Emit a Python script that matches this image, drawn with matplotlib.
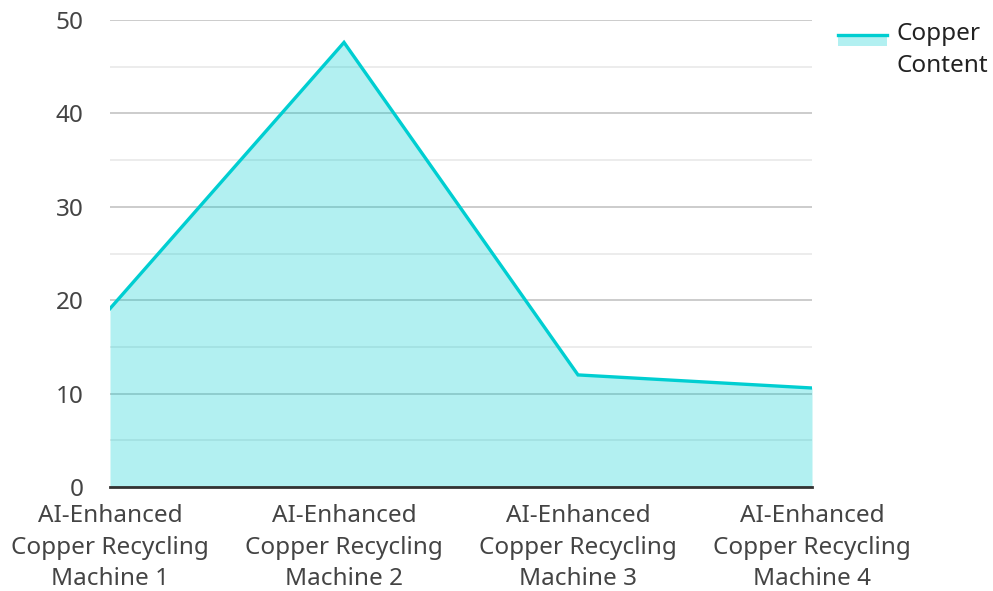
import matplotlib
matplotlib.use("Agg")
import matplotlib.pyplot as plt
from matplotlib.legend_handler import HandlerBase
from matplotlib.patches import Rectangle
from matplotlib.lines import Line2D
from matplotlib.ticker import MultipleLocator

plt.rcParams['font.family'] = ['Noto Sans', 'DejaVu Sans']

categories = [
    "AI-Enhanced\nCopper Recycling\nMachine 1",
    "AI-Enhanced\nCopper Recycling\nMachine 2",
    "AI-Enhanced\nCopper Recycling\nMachine 3",
    "AI-Enhanced\nCopper Recycling\nMachine 4",
]
copper_content = [19.1, 47.6, 12.0, 10.6]
series_label = "Copper\nContent"

line_color = "#00CED1"
text_color = "#444444"


class AreaHandler(HandlerBase):
    """Legend key: shaded box with the series line along its top edge,
    aligned with the first line of a two-line label."""
    def create_artists(self, legend, orig_handle, xdescent, ydescent,
                       width, height, fontsize, trans):
        center = height / 2 - ydescent
        top = center + 10.8
        bottom = center + 2.9
        rect = Rectangle((-xdescent, bottom), width, top - bottom,
                         facecolor=line_color, alpha=0.3, edgecolor="none",
                         transform=trans)
        ln = Line2D([-xdescent, -xdescent + width], [top, top],
                    color=line_color, lw=2.4, transform=trans)
        return [rect, ln]


fig = plt.figure(figsize=(9.93, 5.91), dpi=100)
ax = fig.add_axes([110 / 993, 104 / 591, 702 / 993, 467 / 591])

x = list(range(len(categories)))
ax.fill_between(x, copper_content, 0, color=line_color, alpha=0.3, lw=0, zorder=2)
ax.plot(x, copper_content, color=line_color, lw=2.4, zorder=3, solid_joinstyle="miter")

ax.set_xlim(0, len(categories) - 1)
ax.set_ylim(0, 50)
ax.yaxis.set_major_locator(MultipleLocator(10))
ax.yaxis.set_minor_locator(MultipleLocator(5))
ax.grid(which="major", axis="y", color="#c8c8c8", lw=1.3, zorder=1)
ax.grid(which="minor", axis="y", color="#ebebeb", lw=1.3, zorder=1)
ax.set_axisbelow(True)

for side in ("left", "right", "top"):
    ax.spines[side].set_visible(False)
ax.spines["bottom"].set_color("#333333")
ax.spines["bottom"].set_linewidth(2)
ax.spines["bottom"].set_zorder(4)

ax.set_xticks(x)
ax.set_xticklabels(categories)
ax.tick_params(axis="both", which="both", length=0, labelsize=17.5, colors=text_color)
ax.tick_params(axis="y", pad=19)
ax.tick_params(axis="x", pad=12.5)
for lbl in ax.get_xticklabels():
    lbl.set_linespacing(1.42)

leg = ax.legend([object()], [series_label], handler_map={object: AreaHandler()},
                loc="upper left", bbox_to_anchor=(838 / 993, 1 - 22 / 591),
                bbox_transform=fig.transFigure, frameon=False,
                fontsize=17.5, labelcolor="#222222", handlelength=2.0,
                handleheight=0.8, handletextpad=0.4, borderaxespad=0, borderpad=0)
for t in leg.get_texts():
    t.set_linespacing(1.42)

fig.savefig("out.png", dpi=100)
